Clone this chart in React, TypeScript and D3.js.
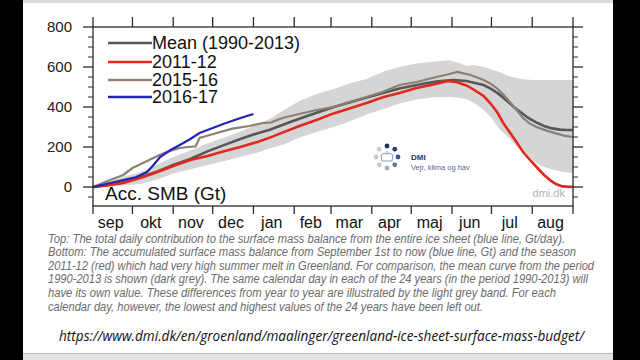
import React from "react";
import * as d3 from "d3";

// ---- data (day offset from 1 Sep, accumulated SMB in Gt) ----
const monthStarts = [0, 30, 61, 91, 122, 153, 181, 212, 242, 273, 303, 334, 365];
const monthLabels = ["sep", "okt", "nov", "dec", "jan", "feb", "mar", "apr", "maj", "jun", "jul", "aug"];
const yMajorTicks = [0, 200, 400, 600, 800];

const bandDays = [0, 10, 20, 36, 50, 61, 75, 87, 100, 112, 125, 135, 145, 157, 170, 183, 196, 208, 221, 233, 246, 258, 265, 271, 278, 284, 290, 297, 303, 309, 316, 322, 329, 335, 341, 348, 357, 365];
const bandUpper = [0, 22, 45, 75, 115, 150, 185, 218, 248, 278, 312, 342, 385, 430, 465, 490, 520, 540, 578, 600, 618, 626, 630, 634, 620, 606, 610, 600, 588, 575, 555, 545, 538, 535, 535, 535, 535, 535];
const bandLower = [0, 0, 5, 15, 40, 68, 90, 110, 130, 150, 172, 195, 212, 248, 275, 300, 330, 362, 390, 418, 438, 448, 450, 450, 446, 440, 420, 385, 345, 290, 248, 205, 165, 128, 105, 90, 75, 70];

const meanDays = [0, 10, 20, 30, 40, 49, 61, 74, 87, 99, 112, 122, 135, 150, 165, 182, 200, 215, 233, 250, 262, 274, 284, 297, 302, 308, 314, 320, 326, 331, 337, 343, 349, 355, 360, 365];
const meanValues = [0, 8, 20, 38, 58, 78, 110, 140, 178, 208, 240, 262, 288, 325, 360, 398, 432, 460, 492, 515, 528, 535, 530, 510, 493, 468, 435, 400, 370, 345, 323, 305, 293, 287, 285, 285];

const redDays = [0, 10, 23, 36, 49, 61, 74, 87, 99, 112, 125, 135, 144, 157, 170, 183, 195, 208, 221, 233, 246, 259, 265, 270, 277, 284, 290, 297, 302, 307, 312, 317, 322, 327, 333, 338, 343, 348, 352, 357, 365];
const redValues = [0, 8, 20, 45, 75, 105, 135, 155, 178, 200, 225, 248, 272, 305, 335, 368, 392, 420, 450, 470, 495, 512, 522, 530, 524, 508, 485, 455, 420, 378, 320, 272, 225, 175, 130, 95, 60, 32, 15, 3, 0];

const brownDays = [0, 13, 23, 30, 38, 49, 56, 66, 72, 78, 81, 94, 106, 119, 129, 135, 144, 160, 170, 183, 195, 208, 220, 233, 246, 258, 271, 277, 287, 297, 302, 307, 312, 317, 322, 327, 332, 338, 345, 352, 358, 365];
const brownValues = [0, 35, 60, 95, 120, 155, 175, 195, 200, 203, 245, 270, 292, 305, 320, 322, 345, 370, 385, 400, 425, 450, 475, 510, 525, 545, 565, 575, 560, 535, 518, 495, 462, 425, 385, 345, 318, 298, 282, 268, 257, 250];

const blueDays = [0, 13, 23, 33, 41, 46, 51, 59, 66, 74, 81, 89, 99, 110, 117, 122];
const blueValues = [0, 20, 35, 50, 75, 110, 150, 185, 210, 240, 270, 290, 315, 340, 355, 365];

const legendItems = ["Mean (1990-2013)", "2011-12", "2015-16", "2016-17"];
const legendColors = ["#575757", "#e2281d", "#8c8076", "#2424b4"];

const captionLines = [
  "Top: The total daily contribution to the surface mass balance from the entire ice sheet (blue line, Gt/day).",
  "Bottom: The accumulated surface mass balance from September 1st to now (blue line, Gt) and the season",
  "2011-12 (red) which had very high summer melt in Greenland. For comparison, the mean curve from the period",
  "1990-2013 is shown (dark grey). The same calendar day in each of the 24 years (in the period 1990-2013) will",
  "have its own value. These differences from year to year are illustrated by the light grey band. For each",
  "calendar day, however, the lowest and highest values of the 24 years have been left out.",
];
const captionEnds = [565, 576, 594, 588, 556, 483];

export default function App() {
  const L = 93, R = 573, T = 27;
  const x = d3.scaleLinear().domain([0, 365]).range([L, R]);
  const y = d3.scaleLinear().domain([0, 800]).range([187, 27]);
  const B = y(-95);

  const line = (days: number[], vals: number[]) =>
    d3.line<number>().x((_, i) => x(days[i])).y((v) => y(v))(vals) || "";
  const area = d3
    .area<number>()
    .x((_, i) => x(bandDays[i]))
    .y0((_, i) => y(bandLower[i]))
    .y1((v) => y(v))(bandUpper) || "";

  const minor = d3.range(-50, 800, 50).filter((v) => v % 200 !== 0);
  const font = "'Liberation Sans', Arial, Helvetica, sans-serif";
  const axisCol = "#2a2a2a";

  const dots = [
    { a: -90, c: "#1f2a6a" },
    { a: -45, c: "#2c3a7c" },
    { a: 0, c: "#44508a" },
    { a: 45, c: "#6a7499" },
    { a: 90, c: "#a3a9c0" },
    { a: 135, c: "#c2c6d3" },
    { a: 180, c: "#c6cad6" },
    { a: 225, c: "#c6cad6" },
  ];
  const lcx = 387, lcy = 157, lr = 11;

  return (
    <svg width={640} height={360} style={{ position: "absolute", left: 0, top: 0, display: "block" }} fontFamily={font}>
      <rect x={0} y={0} width={640} height={360} fill="#000" />
      <rect x={23} y={0} width={590} height={354} fill="#fff" />
      <rect x={23} y={0} width={590} height={3} fill="#d9d9d9" />
      <rect x={23} y={353} width={590} height={7} fill="#e4e4e4" />
      <line x1={23} x2={613} y1={353.5} y2={353.5} stroke="#b5b5b5" />

      {/* band */}
      <path d={area} fill="#d5d5d5" />

      {/* lines */}
      <path d={line(meanDays, meanValues)} fill="none" stroke={legendColors[0]} strokeWidth={2.6} />
      <path d={line(brownDays, brownValues)} fill="none" stroke={legendColors[2]} strokeWidth={2.2} />
      <path d={line(redDays, redValues)} fill="none" stroke={legendColors[1]} strokeWidth={2.6} />
      <path d={line(blueDays, blueValues)} fill="none" stroke={legendColors[3]} strokeWidth={2.2} />

      {/* frame */}
      <rect x={L} y={T} width={R - L} height={B - T} fill="none" stroke={axisCol} strokeWidth={1.3} />

      {/* y ticks */}
      {yMajorTicks.map((v) => (
        <g key={"ym" + v}>
          <line x1={L - 10} x2={L} y1={y(v)} y2={y(v)} stroke={axisCol} strokeWidth={1.3} />
          <line x1={R} x2={R + 10} y1={y(v)} y2={y(v)} stroke={axisCol} strokeWidth={1.3} />
          <text x={72} y={y(v)} dy="0.35em" textAnchor="end" fontSize={15} fill="#222">{v}</text>
        </g>
      ))}
      {minor.map((v) => (
        <g key={"yn" + v}>
          <line x1={L - 5} x2={L} y1={y(v)} y2={y(v)} stroke={axisCol} strokeWidth={1} />
          <line x1={R} x2={R + 5} y1={y(v)} y2={y(v)} stroke={axisCol} strokeWidth={1} />
        </g>
      ))}

      {/* x ticks */}
      {monthStarts.map((d, i) => (
        <g key={"xm" + d}>
          <line x1={x(d)} x2={x(d)} y1={T - 10} y2={T} stroke={axisCol} strokeWidth={1.3} />
          <line x1={x(d)} x2={x(d)} y1={B} y2={B + 8} stroke={axisCol} strokeWidth={1.3} />
          {i < monthLabels.length && (
            <text x={x(d + (monthStarts[i + 1] - d) * 0.45)} y={228} textAnchor="middle" fontSize={16} fill="#111">
              {monthLabels[i]}
            </text>
          )}
        </g>
      ))}

      {/* legend */}
      {legendItems.map((s, i) => {
        const ly = [43, 62, 80, 97][i];
        return (
          <g key={s}>
            <line x1={108} x2={152} y1={ly} y2={ly} stroke={legendColors[i]} strokeWidth={2.4} />
            <text x={152} y={ly} dy="0.35em" fontSize={18} fill="#111">{s}</text>
          </g>
        );
      })}

      <text x={105} y={200} fontSize={19} fill="#111">Acc. SMB (Gt)</text>

      {/* DMI logo */}
      {dots.map((o, i) => (
        <circle key={i} cx={lcx + lr * Math.cos((o.a * Math.PI) / 180)} cy={lcy + lr * Math.sin((o.a * Math.PI) / 180)} r={2.4} fill={o.c} />
      ))}
      <path
        d={`M${lcx - 5},${lcy + 4} L${lcx + 5},${lcy + 4} L${lcx + 6},${lcy - 2} Q${lcx + 3},${lcy - 5} ${lcx},${lcy - 3} Q${lcx - 3},${lcy - 5} ${lcx - 6},${lcy - 2} Z M${lcx},${lcy - 3} L${lcx},${lcy - 6}`}
        fill="none"
        stroke="#8f9abb"
        strokeWidth={1}
      />
      <text x={411} y={160} fontSize={8} fontWeight="bold" fill="#2a3570">DMI</text>
      <text x={411} y={170} fontSize={7.5} fill="#5a6690">Vejr, klima og hav</text>
      <text x={565} y={197} textAnchor="end" fontSize={11} fill="#b3b3b3">dmi.dk</text>

      {/* caption */}
      {captionLines.map((s, i) => (
        <text
          key={i}
          x={48}
          y={[243, 256, 270, 283, 297, 311][i]}
          fontSize={12}
          fontStyle="italic"
          fill="#6b6b6b"
          textLength={captionEnds[i] - 48}
          lengthAdjust="spacingAndGlyphs"
        >
          {s}
        </text>
      ))}

      <text x={59} y={341} fontSize={15} fontStyle="italic" fill="#111" fontFamily="'Open Sans', 'Noto Sans', sans-serif" textLength={525} lengthAdjust="spacingAndGlyphs">
        https://www.dmi.dk/en/groenland/maalinger/greenland-ice-sheet-surface-mass-budget/
      </text>
    </svg>
  );
}
